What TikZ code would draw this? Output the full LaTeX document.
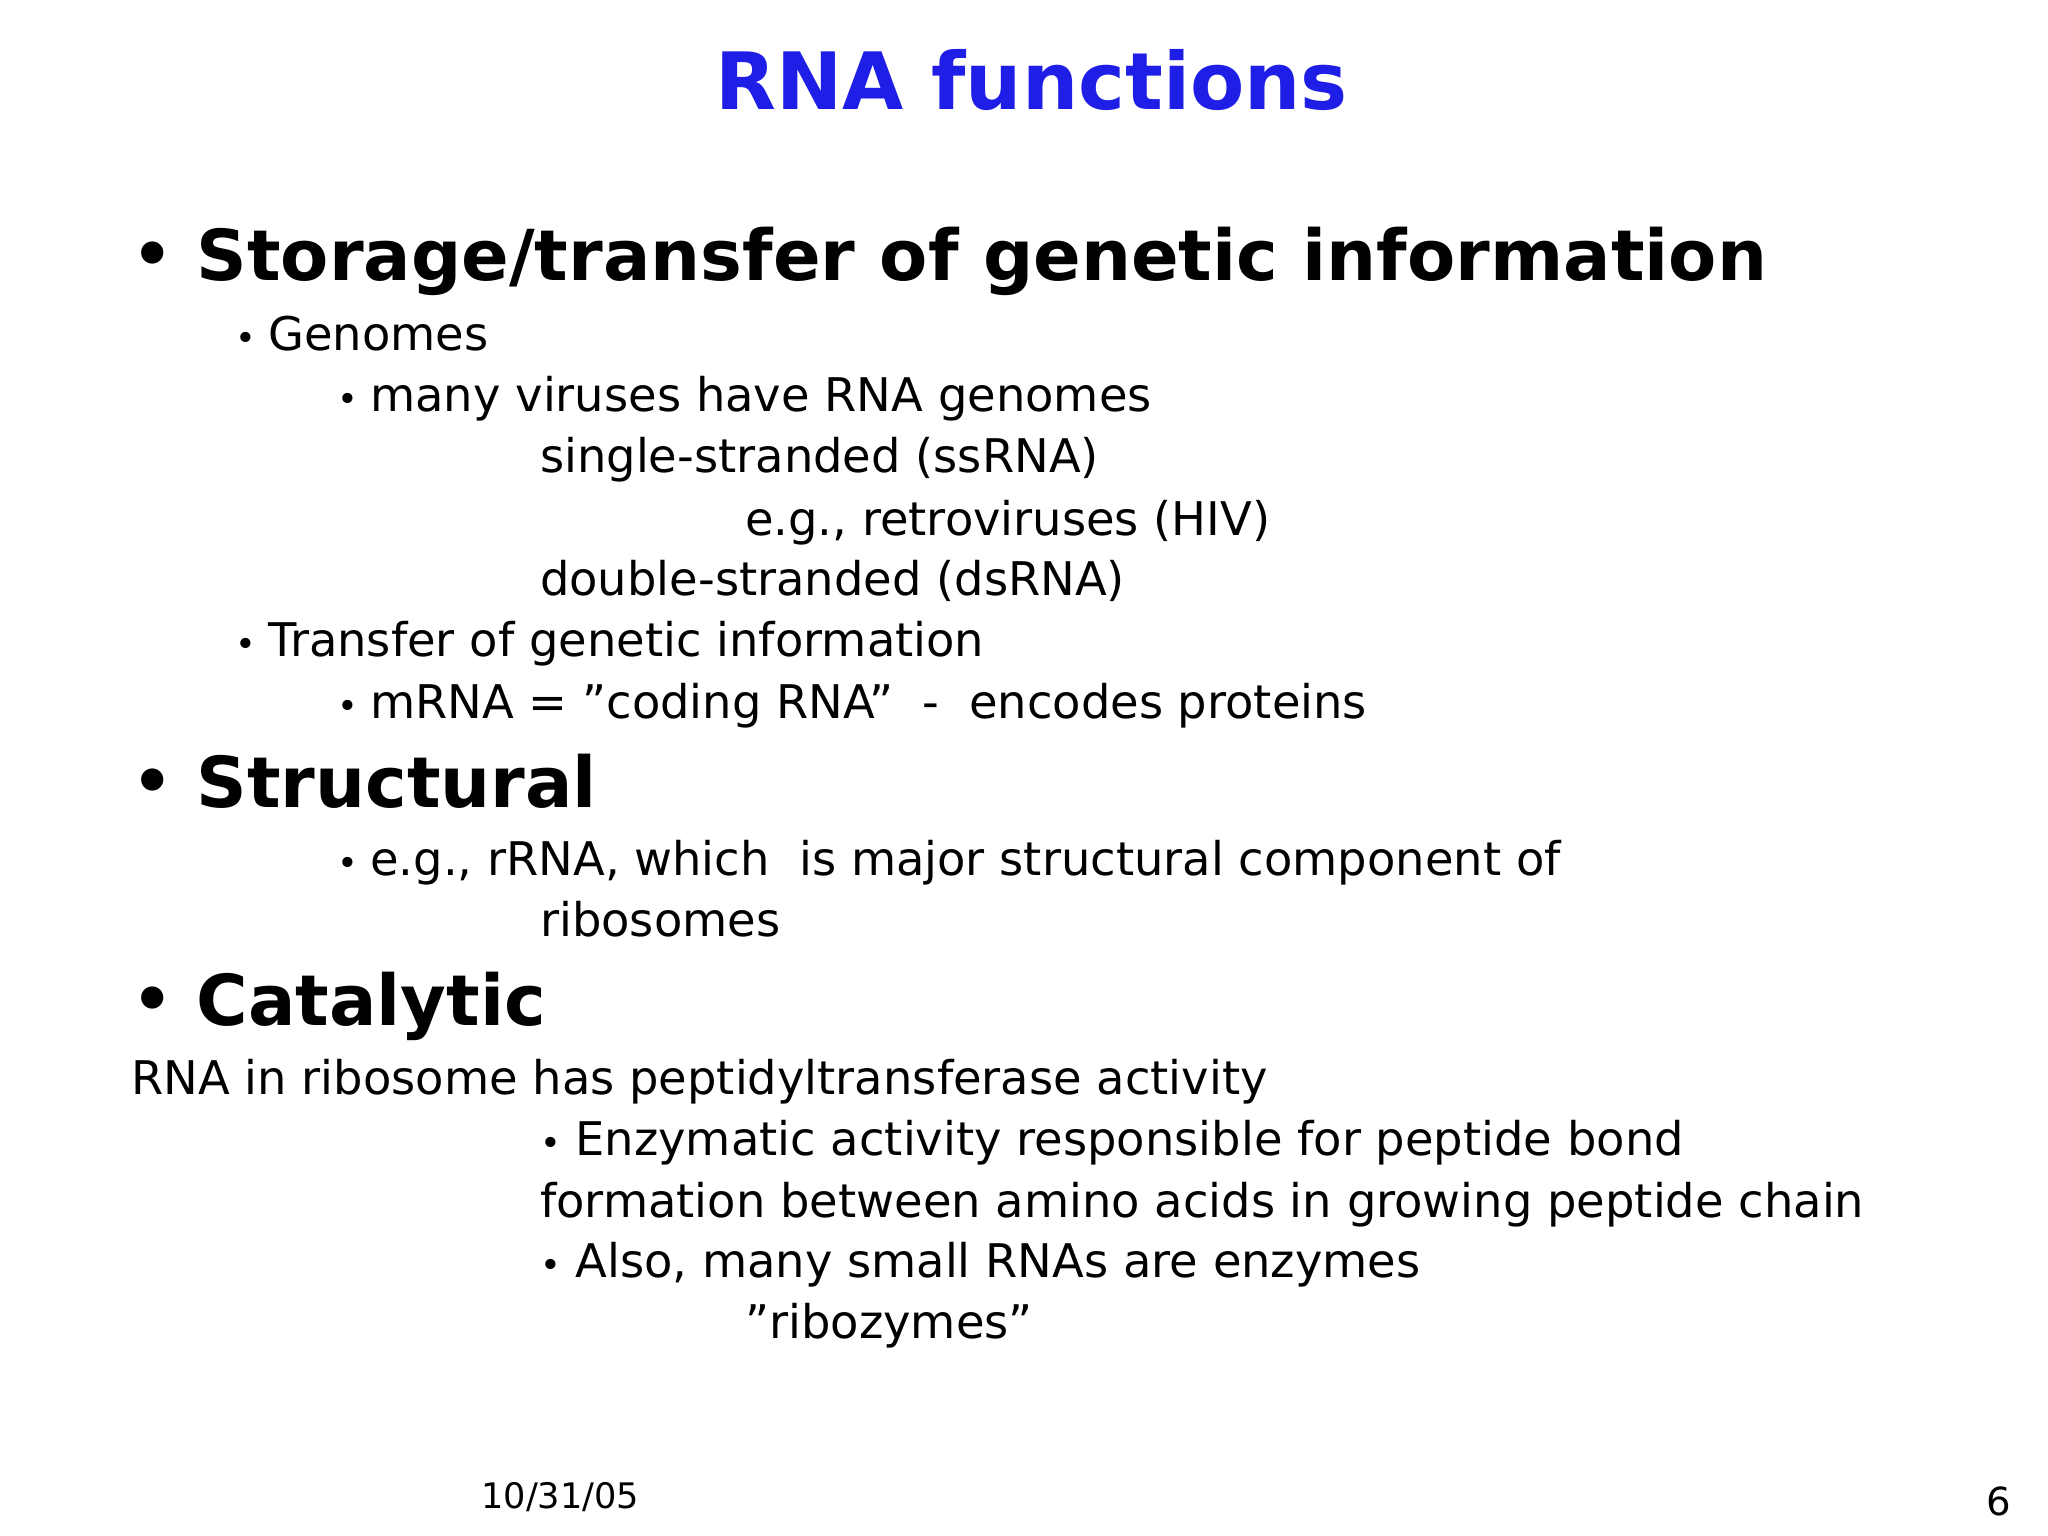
\documentclass[tikz,border=0pt]{standalone}
\usepackage{fontspec}
\setmainfont{DejaVu Sans}
\newcommand{\sq}{\symbol{34}}
\begin{document}
\begin{tikzpicture}[x=0.013061cm,y=-0.013061cm,
  txt/.style={anchor=base west,inner sep=0pt,font=\fontsize{13.2}{16}\selectfont},
  big/.style={anchor=base west,inner sep=0pt,font=\fontsize{20}{24}\selectfont\bfseries},
  bul/.style={anchor=base west,inner sep=0pt,font=\fontsize{10}{12}\selectfont},
  bbul/.style={anchor=base west,inner sep=0pt,font=\fontsize{18}{22}\selectfont\bfseries}]
\useasboundingbox (0,0) rectangle (1568,1176);
\node[anchor=base,inner sep=0pt,font=\fontsize{22.5}{27}\selectfont\bfseries,text={rgb,255:red,30;green,30;blue,230}] (title) at (790,84) {RNA functions};
\node[bbul] (b1) at (101,212) {•};
\node[big] (t1) at (150,215) {Storage/transfer of genetic information};
\node[bul] (b2) at (180,268) {•};
\node[txt] (t2) at (205,268) {Genomes};
\node[bul] (b3) at (258,315) {•};
\node[txt] (t3) at (283,315) {many viruses have RNA genomes};
\node[txt] (t4) at (413,362) {single-stranded (ssRNA)};
\node[txt] (t5) at (570,410) {e.g., retroviruses (HIV)};
\node[txt] (t6) at (413,456) {double-stranded (dsRNA)};
\node[bul] (b7) at (180,503) {•};
\node[txt] (t7) at (205,503) {Transfer of genetic information};
\node[bul] (b8) at (258,550) {•};
\node[txt] (t8) at (283,550) {mRNA = \sq coding RNA\sq\ \ -\ \ encodes proteins};
\node[bbul] (b9) at (101,615) {•};
\node[big] (t9) at (150,618) {Structural};
\node[bul] (b10) at (258,670) {•};
\node[txt] (t10) at (283,670) {e.g., rRNA, which\ \ is major structural component of};
\node[txt] (t11) at (413,717) {ribosomes};
\node[bbul] (b12) at (101,782) {•};
\node[big] (t12) at (150,785) {Catalytic};
\node[txt] (t13) at (100,838) {RNA in ribosome has peptidyltransferase activity};
\node[bul] (b14) at (413,885) {•};
\node[txt] (t14) at (440,885) {Enzymatic activity responsible for peptide bond};
\node[txt] (t15) at (413,932) {formation between amino acids in growing peptide chain};
\node[bul] (b16) at (413,978) {•};
\node[txt] (t16) at (440,978) {Also, many small RNAs are enzymes};
\node[txt] (t17) at (570,1025) {\sq ribozymes”};
\node[anchor=base west,inner sep=0pt,font=\fontsize{10}{12}\selectfont] (date) at (368,1155) {10/31/05};
\node[anchor=base west,inner sep=0pt,font=\fontsize{11}{13}\selectfont] (pg) at (1520,1160) {6};
\end{tikzpicture}
\end{document}
